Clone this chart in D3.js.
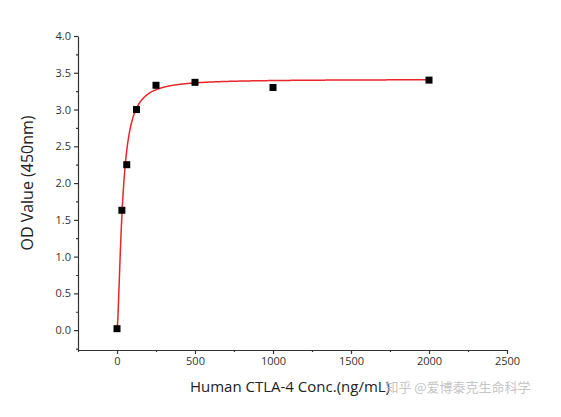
<!DOCTYPE html><html><head><meta charset="utf-8">
<script src="https://cdn.jsdelivr.net/npm/d3@7"></script>
<style>body{margin:0;background:#fff}text{font-family:"Open Sans","Liberation Sans",sans-serif}</style></head><body>
<svg id="c" width="561" height="417"></svg>
<script>
const conc=[0,31.25,62.5,125,250,500,1000,2000];
const od=[0.02,1.63,2.25,3.0,3.33,3.37,3.30,3.40];
const xTicks=[0,500,1000,1500,2000,2500];
const yTicks=[0,0.5,1.0,1.5,2.0,2.5,3.0,3.5,4.0];
const fitTop=3.41,fitBottom=0,fitEC50=35,fitHill=1.6;
const svg=d3.select("#c");
const x=d3.scaleLinear().domain([-250,2500]).range([78,507]);
const y=d3.scaleLinear().domain([-0.27,4.0]).range([350,36]);
const g=svg.append("g");
g.append("g").attr("transform","translate(0,350)").call(d3.axisBottom(x).tickValues(xTicks).tickSize(4).tickSizeOuter(0).tickFormat(d3.format("d")));
g.append("g").attr("transform","translate(0,350)").call(d3.axisBottom(x).tickValues(d3.range(-250,2501,250).filter(v=>v%500!==0)).tickSize(2).tickFormat("")).select(".domain").remove();
g.append("g").attr("transform","translate(78,0)").call(d3.axisLeft(y).tickValues(yTicks).tickSize(4).tickSizeOuter(0).tickFormat(d3.format(".1f")));
g.append("g").attr("transform","translate(78,0)").call(d3.axisLeft(y).tickValues(d3.range(-0.25,4,0.5)).tickSize(2).tickFormat("")).select(".domain").remove();
svg.selectAll(".domain,.tick line").attr("stroke","#333").attr("stroke-width",1.2);
svg.selectAll(".tick text").attr("font-size",11).attr("fill","#333");
const fit=v=>v<=0?fitBottom:fitBottom+(fitTop-fitBottom)/(1+Math.pow(fitEC50/v,fitHill));
const xs=d3.range(0,2001,1).concat(d3.range(0,60,0.25));xs.sort((a,b)=>a-b);
g.append("path").datum(xs).attr("fill","none").attr("stroke","#e8262b").attr("stroke-width",1.5)
 .attr("d",d3.line().x(d=>x(d)).y(d=>y(fit(d))));
g.selectAll("rect.p").data(conc).enter().append("rect").attr("x",(d)=>x(d)-3.5).attr("y",(d,i)=>y(od[i])-3.5).attr("width",7).attr("height",7).attr("fill","#000");
svg.append("text").attr("x",290).attr("y",392).attr("text-anchor","middle").attr("font-size",15).attr("fill","#222").text("Human CTLA-4 Conc.(ng/mL)");
svg.append("text").attr("transform","translate(33,183) rotate(-90)").attr("text-anchor","middle").attr("font-size",16).attr("fill","#222").text("OD Value (450nm)");
svg.append("text").attr("x",458).attr("y",392).attr("text-anchor","middle").attr("font-size",13).attr("fill","#bbb").attr("opacity",0.85).style("font-family","Noto Sans CJK SC").text("知乎 @爱博泰克生命科学");
</script></body></html>
